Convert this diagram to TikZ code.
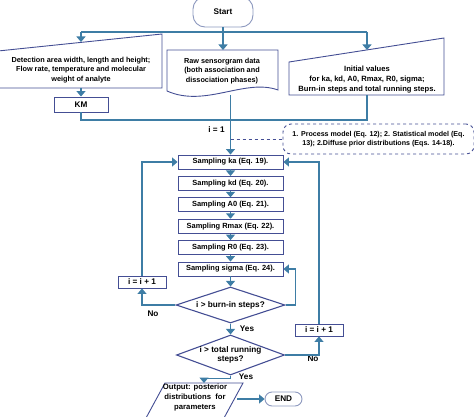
\documentclass[tikz,border=0pt]{standalone}
\usepackage{fontspec}
\setmainfont{Liberation Sans}
\usetikzlibrary{arrows.meta,shapes.geometric}
\definecolor{flowline}{RGB}{62,125,165}
\definecolor{boxline}{RGB}{68,78,148}
\definecolor{termline}{RGB}{140,152,190}

\begin{document}
\begin{tikzpicture}[
                x=1pt, y=-1pt,
                >={Triangle[width=9pt,length=5.5pt]},
                node distance=21.4pt,
                font=\fontsize{7.3}{9.5}\selectfont\bfseries,
                big/.style={font=\fontsize{8.2}{9.5}\selectfont\bfseries},
                flow/.style={draw=flowline, line width=1.1pt},
                arrow/.style={flow, ->},
                inbox/.style={draw=boxline, line width=0.9pt},
                stepbox/.style={rectangle, draw=boxline, line width=0.9pt, minimum width=105pt, minimum height=14pt, inner sep=0pt, font=\fontsize{7.45}{9}\selectfont\bfseries},
                countbox/.style={rectangle, draw=boxline, line width=0.9pt, minimum width=48pt, minimum height=12pt, inner sep=0pt, big},
                decision/.style={diamond, draw=boxline, line width=1.1pt, aspect=2.7, inner sep=0pt, align=center, big},
                terminal/.style={rectangle, draw=termline, line width=0.9pt, inner sep=0pt}
                ]
            \useasboundingbox (0,0) rectangle (474,417);
            % Nodes
            \node[terminal, minimum width=60pt, minimum height=30pt, rounded corners=12pt, big] (start) at (223,12) {Start};

            \draw[inbox] (-2,51) -- (162,34) -- (162,88) -- (-2,88) -- cycle;
            \node[align=center] (detect) at (81,70) {Detection area width, length and height;\\Flow rate, temperature and molecular\\weight of analyte};
            \draw[inbox] (167,50) -- (278,50) -- (278,90) .. controls (245,78) and (205,108) .. (167,91) -- cycle;
            \node[align=center] (raw) at (222,71) {Raw sensorgram data\\(both association and\\dissociation phases)};
            \draw[inbox] (289,62) -- (444,38) -- (444,95) -- (289,95) -- cycle;
            \node[align=center, font=\fontsize{7.6}{10}\selectfont\bfseries] (init) at (367,79.5) {Initial values\\for ka, kd, A0, Rmax, R0, sigma;\\Burn-in steps and total running steps.};
            \node[rectangle, draw=boxline, line width=0.9pt, minimum width=54pt, minimum height=15pt, inner sep=0pt, big] (km) at (81,104.5) {KM};

            \coordinate (forkL) at (81,32);
            \coordinate (forkR) at (367,32);
            \coordinate (detectT) at (81,42);
            \coordinate (rawT) at (223,50);
            \coordinate (initT) at (367,50);
            \coordinate (detectB) at (81,88);
            \coordinate (rawB) at (230.5,95);
            \coordinate (initB) at (367,95);
            \coordinate (joinL) at (81,120);
            \coordinate (joinR) at (367,120);
            \coordinate (tap) at (230.5,139);

            \node[big] (ione) at (216.5,130) {i = 1};
            \node[rectangle, draw=boxline, dashed, line width=0.9pt, rounded corners=8pt, minimum width=191pt, minimum height=30pt, inner sep=0pt, align=center, font=\fontsize{7.1}{9}\selectfont\bfseries] (prior) at (378.5,139) {1. Process model (Eq. 12); 2. Statistical model (Eq.\\13); 2.Diffuse prior distributions (Eqs. 14-18).};

            \node[stepbox] (ka) at (230.5,162) {Sampling ka (Eq. 19).};
            \node[stepbox] (kd) [below of=ka] {Sampling kd (Eq. 20).};
            \node[stepbox] (azero) [below of=kd] {Sampling A0 (Eq. 21).};
            \node[stepbox] (rmax) [below of=azero] {Sampling Rmax (Eq. 22).};
            \node[stepbox] (rzero) [below of=rmax] {Sampling R0 (Eq. 23).};
            \node[stepbox] (sigma) [below of=rzero] {Sampling sigma (Eq. 24).};

            \node[decision, minimum width=109pt, minimum height=36pt] (burnin) at (230.5,305) {i > burn-in steps?};
            \node[decision, minimum width=108pt, minimum height=40pt] (total) at (230.5,355) {i > total running\\steps?};
            \node[countbox] (incA) at (142,282) {i = i + 1};
            \node[countbox] (incB) at (319,330) {i = i + 1};
            \node[big] (noA) at (153,314) {No};
            \node[big] (noB) at (313,359) {No};
            \node[big] (yesA) at (247,329) {Yes};
            \node[big] (yesB) at (246,377) {Yes};

            \draw[inbox] (165,383) -- (243,383) -- (224,418) -- (146,418) -- cycle;
            \node[align=center, font=\fontsize{7.7}{10}\selectfont\bfseries] (output) at (195,398) {Output: posterior\\distributions~ for\\parameters};
            \coordinate (outputT) at (204,383);
            \coordinate (outputR) at (237,399);
            \node[terminal, minimum width=37pt, minimum height=14pt, rounded corners=7pt, big] (finish) at (283.5,399) {END};

            % Edges
            \draw[flow] (forkL) -- (forkR);
            \draw[arrow] (start.south) -- (rawT);
            \draw[arrow] (forkL) -- (detectT);
            \draw[arrow] (forkR) -- (initT);
            \draw[arrow] (detectB) -- (km.north);
            \draw[flow] (km.south) -- (joinL) -- (joinR) -- (initB);
            \draw[arrow] (rawB) -- (ka.north);
            \draw[draw=boxline, line width=0.9pt, dashed] (tap) -- (prior.west);
            \draw[arrow] (ka) -- (kd);
            \draw[arrow] (kd) -- (azero);
            \draw[arrow] (azero) -- (rmax);
            \draw[arrow] (rmax) -- (rzero);
            \draw[arrow] (rzero) -- (sigma);
            \draw[arrow] (sigma) -- (burnin);
            \draw[arrow] (burnin.east) -- ++(10,0) |- (sigma.east);
            \draw[arrow] (burnin.west) -| (incA.south);
            \draw[arrow] (incA.north) |- (ka.west);
            \draw[arrow] (burnin.south) -- (total.north);
            \draw[arrow] (total.east) -| (incB.south);
            \draw[arrow] (incB.north) |- (ka.east);
            \draw[arrow] (total.south) -- ++(0,3) -| (outputT);
            \draw[arrow] (outputR) -- (finish.west);

            \end{tikzpicture}
\end{document}
